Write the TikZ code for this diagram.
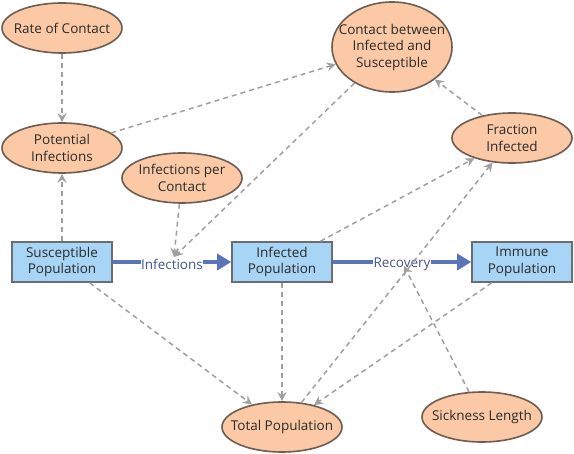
\documentclass[tikz,border=0pt]{standalone}
\usepackage{fontspec}
\setmainfont{Open Sans}
\usetikzlibrary{shapes.geometric,arrows.meta}
\definecolor{peach}{HTML}{FBC9A6}
\definecolor{peachline}{HTML}{6E5D52}
\definecolor{boxfill}{HTML}{A8D4F5}
\definecolor{boxline}{HTML}{6A6E72}
\definecolor{flowcol}{HTML}{5B74B8}
\definecolor{flowtext}{HTML}{44558F}
\definecolor{linkcol}{HTML}{A0A0A0}
\definecolor{txt}{HTML}{2A2A2A}
\begin{document}
\begin{tikzpicture}[x=1pt,y=-1pt,
  font=\fontsize{13.5}{16.5}\selectfont,
  var/.style={ellipse,draw=peachline,line width=1.6pt,fill=peach,inner ysep=0pt,inner xsep=-13pt,
     minimum width=120pt,minimum height=50pt,align=center,text=txt},
  stock/.style={rectangle,draw=boxline,line width=1.6pt,fill=boxfill,inner sep=0pt,
     minimum width=100pt,minimum height=40pt,align=center,text=txt},
  flow/.style={draw=flowcol,line width=4pt,-{Triangle[length=14pt,width=16pt]}},
  flowlabel/.style={text=flowtext,fill=white,inner sep=0.3pt},
  link/.style={draw=linkcol,line width=1.5pt,dash pattern=on 5pt off 4pt,
     -{Stealth[length=9pt,width=9pt,inset=3pt]}}]
\useasboundingbox (0,0) rectangle (574,454);
\fill[white] (0,0) rectangle (574,454);
% stocks
\node[stock] (sus) at (62,262) {Susceptible\\Population};
\node[stock] (inf) at (282,262) {Infected\\Population};
\node[stock] (imm) at (522,262) {Immune\\Population};
% variables
\node[var] (roc) at (62,28) {Rate of Contact};
\node[var] (pot) at (62,148) {Potential\\Infections};
\node[var] (ipc) at (182,178) {Infections per\\Contact};
\node[var,minimum height=90pt] (cbis) at (392,47) {Contact between\\Infected and\\Susceptible};
\node[var] (fi) at (512,138) {Fraction\\Infected};
\node[var] (tot) at (282,427) {Total Population};
\node[var] (sl) at (482,417) {Sickness Length};
% flows
\draw[flow] (sus.east) -- (inf.west);
\draw[flow] (inf.east) -- (imm.west);
\node[flowlabel] (infl) at (172,264) {Infections};
\node[flowlabel] (recl) at (402,264) {Recovery};
\coordinate (infv) at (174,257);
\coordinate (recv) at (404,266);
% links
\draw[link] (roc) -- (pot);
\draw[link] (sus.north) -- (pot);
\draw[link] (pot) -- (cbis);
\draw[link] (cbis) -- (infv);
\draw[link] (ipc) -- (infv);
\draw[link] (fi) -- (cbis);
\draw[link] (inf) -- (fi);
\draw[link] (tot) -- (fi);
\draw[link] (sus) -- (tot);
\draw[link] (inf) -- (tot);
\draw[link] (imm) -- (tot);
\draw[link] (sl) -- (recv);
\end{tikzpicture}
\end{document}
